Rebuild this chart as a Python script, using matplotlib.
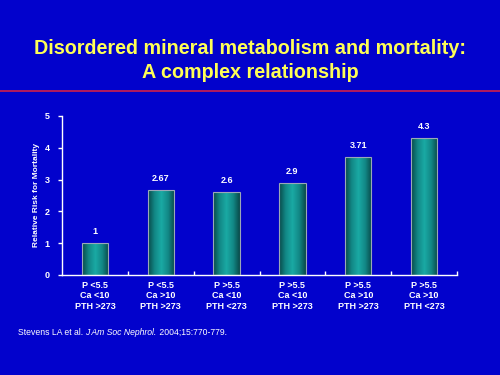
import matplotlib
matplotlib.use("Agg")
import matplotlib.pyplot as plt
import numpy as np
from matplotlib.colors import LinearSegmentedColormap

categories = ["P <5.5\nCa <10\nPTH >273", "P <5.5\nCa >10\nPTH >273", "P >5.5\nCa <10\nPTH <273",
              "P >5.5\nCa <10\nPTH >273", "P >5.5\nCa >10\nPTH >273", "P >5.5\nCa >10\nPTH <273"]
values = [1, 2.67, 2.6, 2.9, 3.71, 4.3]
value_labels = ["1", "2.67", "2.6", "2.9", "3.71", "4.3"]
yticks = [0, 1, 2, 3, 4, 5]

BG = "#0202CC"
plt.rcParams['font.family'] = ['Liberation Sans', 'DejaVu Sans']

fig = plt.figure(figsize=(5, 3.75), dpi=100, facecolor=BG)
ax = fig.add_axes([62/500, 1-275/375, (457-62)/500, (275-116)/375])
ax.set_facecolor(BG)

x = np.arange(len(values))
bars = ax.bar(x, values, width=0.4, color="none", edgecolor="#9AA8B8", linewidth=0.8, zorder=3)
cmap = LinearSegmentedColormap.from_list("teal", ["#084848", "#128886", "#1AAAA4", "#128886", "#084848"])
grad = np.linspace(0, 1, 256).reshape(1, -1)
for b in bars:
    x0, w, h = b.get_x(), b.get_width(), b.get_height()
    im = ax.imshow(grad, cmap=cmap, aspect="auto", extent=[x0, x0 + w, 0, h], zorder=2)
    im.set_clip_path(b)

for xi, v, lab in zip(x, values, value_labels):
    ax.text(xi, v + 0.22, lab, ha="center", va="bottom", color="white", fontsize=6.5, fontweight="bold")

ax.set_xlim(-0.5, 5.5)
ax.set_ylim(0, 5)
ax.set_yticks(yticks)
ax.set_yticklabels([str(t) for t in yticks], fontsize=6.5, fontweight="bold", color="white")
ax.set_xticks(np.arange(0.5, 6, 1))
ax.set_xticks(x, minor=True)
ax.set_xticklabels([])
ax.set_xticklabels(categories, minor=True, fontsize=6.5, fontweight="bold", color="white", linespacing=1.25)
ax.tick_params(axis="x", which="minor", length=0, pad=4)
ax.tick_params(axis="x", which="major", direction="in", length=3, color="white", width=1)
ax.tick_params(axis="y", direction="out", length=3, color="white", width=1, pad=6)
for s in ["top", "right"]:
    ax.spines[s].set_visible(False)
for s in ["left", "bottom"]:
    ax.spines[s].set_color("white")
    ax.spines[s].set_linewidth(1)
ax.set_ylabel("Relative Risk for Mortality", fontsize=6, fontweight="bold", color="white", labelpad=3)

fig.text(0.5, 1-48/375, "Disordered mineral metabolism and mortality:", ha="center", va="center",
         color="#FFFF55", fontsize=14.2, fontweight="bold")
fig.text(0.5, 1-72/375, "A complex relationship", ha="center", va="center",
         color="#FFFF55", fontsize=14.2, fontweight="bold")
fig.add_artist(plt.Line2D([0, 1], [1-91/375, 1-91/375], color="#D0204A", linewidth=1.2, transform=fig.transFigure))

# citation
fig.canvas.draw()
r = fig.canvas.get_renderer()
xpos = 18/500
ypos = 1-335/375
for txt, style in [("Stevens LA et al. ", "normal"), ("J Am Soc Nephrol.", "italic"), (" 2004;15:770-779.", "normal")]:
    t = fig.text(xpos, ypos, txt, ha="left", va="baseline", color="white", fontsize=6.2, style=style)
    bb = t.get_window_extent(renderer=r)
    xpos += bb.width / fig.bbox.width

fig.savefig("out.png", dpi=100, facecolor=BG)
